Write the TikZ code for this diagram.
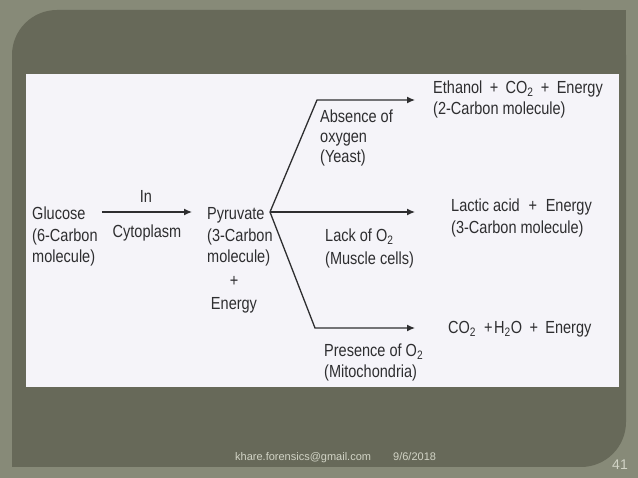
\documentclass[tikz,border=0pt]{standalone}
\usepackage{fontspec}
\setmainfont{Liberation Sans}
\newfontfamily\scanfont[FakeStretch=0.83]{Liberation Sans}
\usetikzlibrary{arrows.meta}

\definecolor{slidebg}{HTML}{878A78}
\definecolor{panelbg}{HTML}{676959}
\definecolor{imagebg}{HTML}{F5F4F9}
\definecolor{inkgray}{HTML}{2E2E30}
\definecolor{footgray}{HTML}{D2D4C6}

\newcommand{\plus}{\hspace{0.42em}+\hspace{0.42em}}

\begin{document}
\begin{tikzpicture}[x=1pt,y=-1pt,
    scantext/.style={anchor=base west,inner sep=0pt,align=left,text=inkgray,
      font=\scanfont\fontsize{17.5}{21.5}\selectfont},
    flow/.style={draw=inkgray,line width=1.3pt,-{Latex[length=8pt,width=7pt]}}]
    % Slide, panel, scanned page
    \fill[slidebg] (0,0) rectangle (638,478);
    \useasboundingbox (0,0) rectangle (638,478);
    \fill[panelbg,rounded corners=45pt] (12,467) -- (12,10) -- (626,10) -- (626,467) -- cycle;
    \fill[panelbg] (12,467) rectangle (80,400);
    \fill[panelbg] (626,10) rectangle (560,80);
    \fill[imagebg] (26,74) rectangle (619,387);
    % Glucose to pyruvate (base = last line)
    \node[scantext] (glucose) at (32,263) {Glucose\\(6-Carbon\\molecule)};
    \node[scantext] (pyruvate) at (207,263) {Pyruvate\\(3-Carbon\\molecule)};
    \node[scantext,anchor=base,align=center] (energy) at (234,310) {+\\[2pt]Energy};
    \node[scantext,anchor=base] (incyto) at (146,203) {In};
    \node[scantext,anchor=base] (cyto) at (147,238) {Cytoplasm};
    \coordinate (fork) at (270,212);
    \draw[flow,shorten <=4pt,shorten >=15pt] (glucose.east |- fork) -- (pyruvate.west |- fork);
    % Three pathways
    \coordinate (upbend) at (317,100);
    \coordinate (upend) at (415,100);
    \coordinate (midend) at (415,212);
    \coordinate (lowbend) at (315,328);
    \coordinate (lowend) at (415,328);
    \draw[flow] (fork) -- (upbend) -- (upend);
    \draw[flow] (fork) -- (midend);
    \draw[flow] (fork) -- (lowbend) -- (lowend);
    \node[scantext] (absence) at (320,163) {Absence of\\[-1.5pt]oxygen\\[-1.5pt](Yeast)};
    \node[scantext] (lack) at (325,265) {Lack of O\textsubscript{2}\\[1.5pt](Muscle cells)};
    \node[scantext] (presence) at (324,378) {Presence of O\textsubscript{2}\\(Mitochondria)};
    \node[scantext] (ethanol) at (433,115) {Ethanol\plus CO\textsubscript{2}\plus Energy\\(2-Carbon molecule)};
    \node[scantext] (lactic) at (451,234) {Lactic acid\hspace{0.5em}+\hspace{0.5em}Energy\\[1pt](3-Carbon molecule)};
    \node[scantext] (water) at (448,334) {CO\textsubscript{2}\hspace{0.45em}+\hspace{0.1em}H\textsubscript{2}O\plus Energy};
    % Footer
    \node[anchor=base west,inner sep=0pt,text=footgray,font=\fontsize{11}{13}\selectfont] (mail) at (235,461) {khare.forensics@gmail.com};
    \node[anchor=base west,inner sep=0pt,text=footgray,font=\fontsize{11}{13}\selectfont] (date) at (393,461) {9/6/2018};
    \node[anchor=base east,inner sep=0pt,text=footgray,font=\fontsize{14}{16}\selectfont] (page) at (628,470) {41};
\end{tikzpicture}
\end{document}
